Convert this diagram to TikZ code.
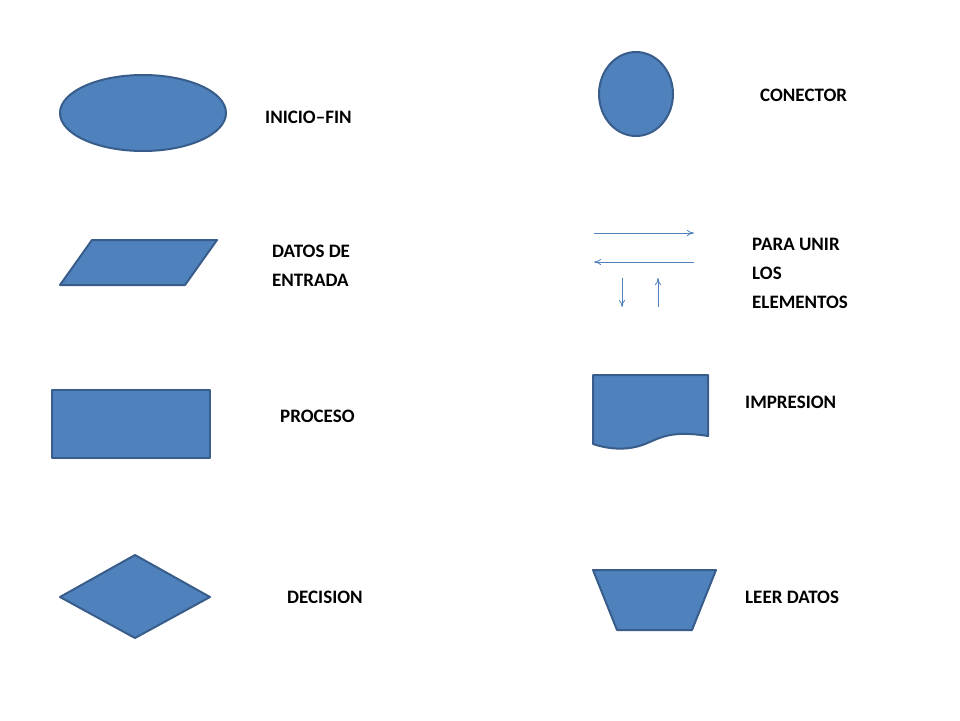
\documentclass[tikz,border=0pt]{standalone}
\usepackage{fontspec}
\setmainfont{Carlito}
\usetikzlibrary{arrows.meta}
\definecolor{fillb}{HTML}{4F81BD}
\definecolor{lineb}{HTML}{385D8A}
\begin{document}
\begin{tikzpicture}[x=1pt,y=-1pt,
  shp/.style={fill=fillb,draw=lineb,line width=2pt,line join=round},
  lbl/.style={anchor=west,font=\fontsize{19}{29}\selectfont\bfseries,align=left,inner sep=0pt},
  conn/.style={draw=fillb,line width=0.8pt,-{To[length=7pt,width=6pt]}}]
\useasboundingbox (0,0) rectangle (960,720);
\fill[white] (0,0) rectangle (960,720);
% left column
\draw[shp] (143,113) ellipse [x radius=83,y radius=38];
\node[lbl] (l1) at (265,117) {INICIO--FIN};
\draw[shp] (60,285) -- (92,240) -- (217,240) -- (185,285) -- cycle;
\node[lbl] (l2) at (272,266) {DATOS DE\\ENTRADA};
\draw[shp] (52,390) rectangle (210,458);
\node[lbl] (l3) at (280,416) {PROCESO};
\draw[shp] (60,597) -- (135,555) -- (210,597) -- (135,638) -- cycle;
\node[lbl] (l4) at (287,597) {DECISION};
% right column
\draw[shp] (636,94) ellipse [x radius=37,y radius=42];
\node[lbl] (r1) at (760,95) {CONECTOR};
\coordinate (a1) at (594,233); \coordinate (a2) at (694,233);
\coordinate (b1) at (694,262); \coordinate (b2) at (594,262);
\coordinate (c1) at (622,278); \coordinate (c2) at (622,307);
\coordinate (d1) at (658,307); \coordinate (d2) at (658,278);
\draw[conn] (a1) -- (a2);
\draw[conn] (b1) -- (b2);
\draw[conn] (c1) -- (c2);
\draw[conn] (d1) -- (d2);
\node[lbl] (r2) at (752,273) {PARA UNIR\\LOS\\ELEMENTOS};
\draw[shp] (593,375) -- (708,375) -- (708,436)
  .. controls (670,430) and (660,438) .. (645,444)
  .. controls (625,452) and (605,448) .. (593,444) -- cycle;
\node[lbl] (r3) at (745,402) {IMPRESION};
\draw[shp] (593,570) -- (716,570) -- (692,630) -- (617,630) -- cycle;
\node[lbl] (r4) at (745,597) {LEER DATOS};
\end{tikzpicture}
\end{document}
